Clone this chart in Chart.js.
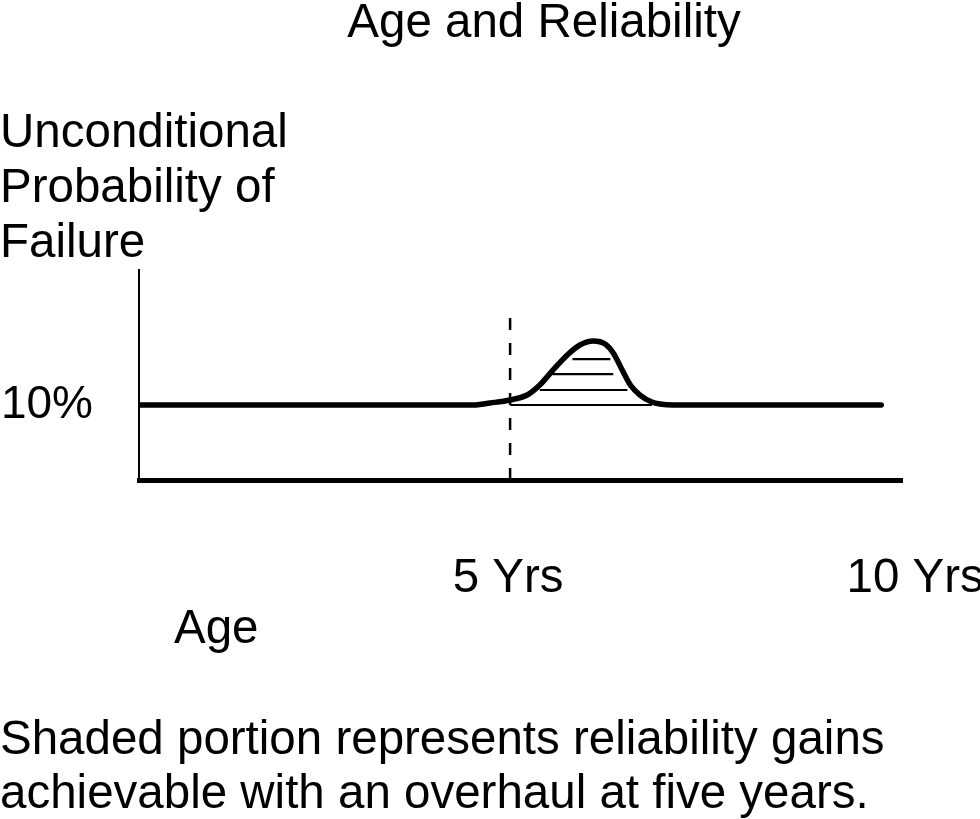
<!DOCTYPE html>
<html>
<head>
<meta charset="utf-8">
<title>Age and Reliability</title>
<script src="https://cdn.jsdelivr.net/npm/chart.js@4.4.0/dist/chart.umd.min.js"></script>
<style>
  html, body { margin: 0; padding: 0; background: #fff; }
  #wrap { width: 980px; height: 819px; position: relative; }
</style>
</head>
<body>
<div id="wrap"><canvas id="chart"></canvas></div>
<script>
// texts
const chartTitle = 'Age and Reliability';
const yAxisLabel = ['Unconditional', 'Probability of', 'Failure'];
const xAxisLabel = 'Age';
const captionLines = ['Shaded portion represents reliability gains', 'achievable with an overhaul at five years.'];

// ticks: age in years, probability in %
const xTickValues = [5, 10];
const xTickLabels = ['5 Yrs', '10 Yrs'];
const yTickValues = [10];
const yTickLabels = ['10%'];

// failure curve
const curveAge  = [0, 4.50, 4.73, 5.00, 5.23, 5.40, 5.58, 5.77, 5.94, 6.12, 6.28, 6.39, 6.51, 6.62, 6.75, 6.91, 7.02, 7.20, 10];
const curveProb = [10, 10, 10.27, 10.67, 11.33, 12.67, 14.67, 16.67, 18.0, 18.53, 18.13, 16.93, 14.67, 12.67, 11.33, 10.4, 10.13, 10, 10];

// hatch lines of the shaded portion
const hatchLevel = [10, 12.0, 14.13, 16.13];
const hatchFrom  = [5.00, 5.40, 5.57, 5.84];
const hatchTo    = [6.91, 6.58, 6.39, 6.35];

// overhaul marker at five years
const overhaulAge = 5;
const overhaulTop = 21.87;

// axis ranges
const xMax = 10.28;
const yMax = 28;

const FONT = '"Liberation Sans", Arial, Helvetica, sans-serif';

// build datasets
const datasets = [];
datasets.push({
    label: 'curve',
    data: curveAge.map((a, i) => ({ x: a, y: curveProb[i] })),
    borderColor: '#000',
    borderWidth: 5.5,
    pointRadius: 0,
    cubicInterpolationMode: 'monotone',
    borderCapStyle: 'round'
});
hatchLevel.forEach(function (lvl, i) {
    datasets.push({
        label: 'hatch' + i,
        data: [{ x: hatchFrom[i], y: lvl }, { x: hatchTo[i], y: lvl }],
        borderColor: '#000',
        borderWidth: 2.2,
        pointRadius: 0
    });
});
datasets.push({
    label: 'overhaul',
    data: [{ x: overhaulAge, y: 0 }, { x: overhaulAge, y: overhaulTop }],
    borderColor: '#000',
    borderWidth: 2.5,
    borderDash: [12, 13],
    pointRadius: 0
});

// all the loose text of the diagram
const diagramText = {
    id: 'diagramText',
    afterDraw(chart) {
        const ctx = chart.ctx;
        const xs = chart.scales.x;
        ctx.save();
        ctx.fillStyle = '#000';
        ctx.font = '47.5px ' + FONT;
        ctx.textBaseline = 'alphabetic';

        ctx.textAlign = 'center';
        ctx.fillText(chartTitle, 544, 37);

        ctx.textAlign = 'left';
        yAxisLabel.forEach((t, i) => ctx.fillText(t, 0, 147 + i * 55));

        // x tick labels, the last one sits past the end of the axis
        ctx.textAlign = 'center';
        xTickValues.forEach((v, i) => {
            const shift = i === xTickValues.length - 1 ? 34 : -2;
            ctx.fillText(xTickLabels[i], xs.getPixelForValue(v) + shift, 592);
        });

        ctx.textAlign = 'left';
        ctx.fillText(xAxisLabel, 174, 643);
        captionLines.forEach((t, i) => ctx.fillText(t, 0, 754 + i * 54));
        ctx.restore();
    }
};

const ctx = document.getElementById('chart').getContext('2d');
const chart = new Chart(ctx, {
    type: 'line',
    data: { datasets: datasets },
    options: {
        responsive: true,
        maintainAspectRatio: false,
        animation: false,
        layout: { padding: { top: 270, right: 78, left: 0, bottom: 0 } },
        plugins: {
            legend: { display: false },
            tooltip: { enabled: false },
            title: { display: false }
        },
        scales: {
            x: {
                type: 'linear',
                min: 0,
                max: xMax,
                afterFit: function (s) { s.height = 339; },
                grid: { display: false, drawTicks: false },
                border: { display: true, color: '#000', width: 5 },
                ticks: { display: false }
            },
            y: {
                type: 'linear',
                min: 0,
                max: yMax,
                afterFit: function (s) { s.width = 139; },
                afterBuildTicks: function (s) { s.ticks = yTickValues.map(v => ({ value: v })); },
                grid: { display: false, drawTicks: false },
                border: { display: true, color: '#000', width: 2 },
                ticks: {
                    padding: 46,
                    color: '#000',
                    font: { family: FONT, size: 46 },
                    callback: function (value) { return yTickLabels[yTickValues.indexOf(value)]; }
                }
            }
        }
    },
    plugins: [diagramText]
});
</script>
</body>
</html>
